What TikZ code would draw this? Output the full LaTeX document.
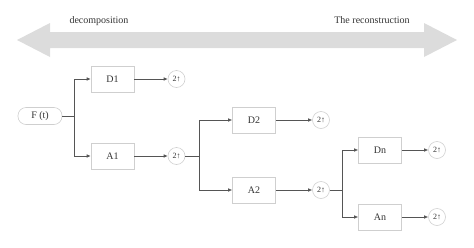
\documentclass[tikz,border=0pt]{standalone}
\usepackage{fontspec}
\setmainfont{Liberation Serif}
\usetikzlibrary{arrows.meta}
\definecolor{bigarrow}{HTML}{DCDCDC}
\definecolor{boxline}{HTML}{CFCFCF}
\definecolor{conn}{HTML}{555555}
\definecolor{txt}{HTML}{333333}
\tikzset{
  blk/.style={draw=boxline, line width=0.6pt, minimum width=43pt, minimum height=26pt, inner sep=0pt, text=txt, font=\fontsize{10}{12}\selectfont},
  src/.style={draw=boxline, line width=0.6pt, rounded corners=8pt, minimum width=44pt, minimum height=17pt, inner sep=0pt, text=txt, font=\fontsize{10}{12}\selectfont},
  up/.style={draw=boxline, line width=0.6pt, circle, minimum size=17pt, inner sep=0pt, text=txt, font=\fontsize{8}{10}\selectfont},
  wire/.style={draw=conn, line width=0.6pt},
  arr/.style={wire, -{Latex[length=4pt,width=3.5pt]}},
  lbl/.style={text=txt, font=\fontsize{10}{12}\selectfont, inner sep=0pt}
}
\begin{document}
\begin{tikzpicture}[x=1pt,y=-1pt]
\useasboundingbox (0,0) rectangle (474,247);
% big double arrow
\fill[bigarrow] (17,40) -- (50,23) -- (50,32) -- (424,32) -- (424,23) -- (457,40) -- (424,57) -- (424,48) -- (50,48) -- (50,57) -- cycle;
\node[lbl] (dec) at (99,21) {decomposition};
\node[lbl] (rec) at (372,20) {The reconstruction};
% nodes
\node[src] (f) at (40,116) {F (t)};
\node[blk] (d1) at (112.5,79) {D1};
\node[blk] (a1) at (112.5,156) {A1};
\node[up] (cd1) at (176.5,79) {2↑};
\node[up] (ca1) at (176.5,156) {2↑};
\node[blk] (d2) at (254,120) {D2};
\node[blk] (a2) at (254,190) {A2};
\node[up] (cd2) at (321,120) {2↑};
\node[up] (ca2) at (321,190) {2↑};
\node[blk] (dn) at (380,150) {Dn};
\node[blk] (an) at (380,217) {An};
\node[up] (cdn) at (437,150) {2↑};
\node[up] (can) at (437,217) {2↑};
% junctions
\coordinate (j1) at (74,116);
\coordinate (j2) at (199,156);
\coordinate (j3) at (342,190);
% connectors
\draw[wire] (f.east) -- (j1);
\draw[arr] (j1) |- (d1.west);
\draw[arr] (j1) |- (a1.west);
\draw[arr] (d1.east) -- (cd1.west);
\draw[arr] (a1.east) -- (ca1.west);
\draw[wire] (ca1.east) -- (j2);
\draw[arr] (j2) |- (d2.west);
\draw[arr] (j2) |- (a2.west);
\draw[arr] (d2.east) -- (cd2.west);
\draw[arr] (a2.east) -- (ca2.west);
\draw[wire] (ca2.east) -- (j3);
\draw[arr] (j3) |- (dn.west);
\draw[arr] (j3) |- (an.west);
\draw[arr] (dn.east) -- (cdn.west);
\draw[arr] (an.east) -- (can.west);
\end{tikzpicture}
\end{document}
